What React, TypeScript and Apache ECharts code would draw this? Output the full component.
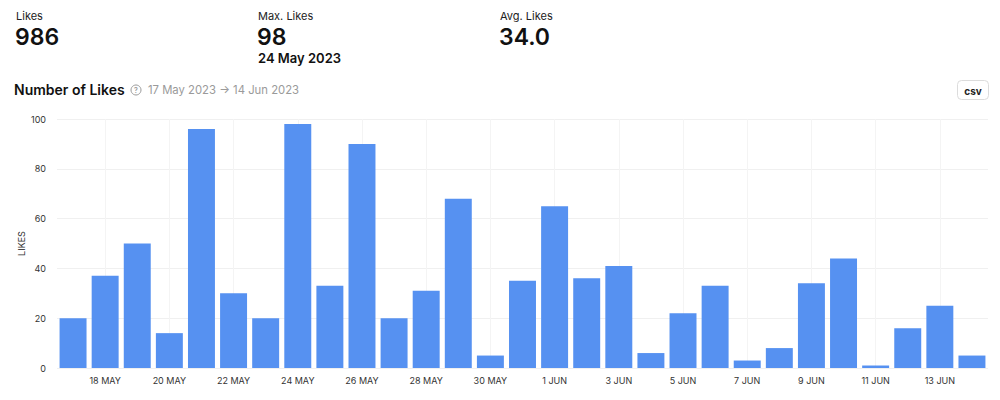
import React, { useEffect, useRef } from "react";
import * as echarts from "echarts";

const categories = [
  "17 MAY", "18 MAY", "19 MAY", "20 MAY", "21 MAY", "22 MAY", "23 MAY", "24 MAY",
  "25 MAY", "26 MAY", "27 MAY", "28 MAY", "29 MAY", "30 MAY", "31 MAY",
  "1 JUN", "2 JUN", "3 JUN", "4 JUN", "5 JUN", "6 JUN", "7 JUN", "8 JUN",
  "9 JUN", "10 JUN", "11 JUN", "12 JUN", "13 JUN", "14 JUN",
];
const likes = [
  20, 37, 50, 14, 96, 30, 20, 98, 33, 90, 20, 31, 68, 5, 35,
  65, 36, 41, 6, 22, 33, 3, 8, 34, 44, 1, 16, 25, 5,
];
const yTicks = [0, 20, 40, 60, 80, 100];

const totalLabel = "986";
const maxLabel = "98";
const maxDateLabel = "24 May 2023";
const avgLabel = "34.0";
const rangeLabel = "17 May 2023 → 14 Jun 2023";

const FONT = "Inter, 'Noto Sans', sans-serif";

export default function App() {
  const ref = useRef<HTMLDivElement>(null);
  useEffect(() => {
    if (!ref.current) return;
    const chart = echarts.init(ref.current, null, { renderer: "svg" });
    const every2 = (i: number) => i % 2 === 1;
    chart.setOption({
      animation: false,
      textStyle: { fontFamily: FONT },
      grid: { left: 57, right: 12, top: 119, bottom: 32, containLabel: false },
      xAxis: {
        type: "category",
        data: categories,
        boundaryGap: true,
        axisLine: { show: false },
        axisTick: { show: false },
        axisLabel: {
          interval: every2,
          color: "#333",
          fontSize: 9,
          margin: 8,
          fontFamily: FONT,
        },
        splitLine: {
          show: true,
          interval: every2,
          alignWithLabel: true,
          lineStyle: { color: "#f4f4f4", width: 1 },
        },
      },
      yAxis: {
        type: "value",
        min: yTicks[0],
        max: yTicks[yTicks.length - 1],
        interval: 20,
        name: "LIKES",
        nameLocation: "middle",
        nameGap: 31,
        nameMoveOverlap: false,
        nameTextStyle: { color: "#333", fontSize: 9, fontFamily: FONT },
        axisLine: { show: false },
        axisTick: { show: false },
        axisLabel: { color: "#333", fontSize: 9, margin: 11, fontFamily: FONT },
        splitLine: { lineStyle: { color: "#f0f0f0", width: 1 } },
      },
      series: [
        {
          type: "bar",
          data: likes,
          barCategoryGap: "16%",
          itemStyle: { color: "#5691f1" },
        },
      ],
      graphic: [
        { type: "text", left: 16, top: 10, style: { text: "Likes", font: `400 11px ${FONT}`, fill: "#222" } },
        { type: "text", left: 15, top: 25, style: { text: totalLabel, font: `600 23px ${FONT}`, fill: "#111" } },
        { type: "text", left: 258, top: 10, style: { text: "Max. Likes", font: `400 11px ${FONT}`, fill: "#222" } },
        { type: "text", left: 257, top: 25, style: { text: maxLabel, font: `600 23px ${FONT}`, fill: "#111" } },
        { type: "text", left: 258, top: 51, style: { text: maxDateLabel, font: `600 13px ${FONT}`, fill: "#111" } },
        { type: "text", left: 500, top: 10, style: { text: "Avg. Likes", font: `400 11px ${FONT}`, fill: "#222" } },
        { type: "text", left: 499, top: 25, style: { text: avgLabel, font: `600 23px ${FONT}`, fill: "#111" } },
        { type: "text", left: 14, top: 82, style: { text: "Number of Likes", font: `600 14px ${FONT}`, fill: "#111" } },
        { type: "circle", shape: { cx: 136, cy: 90, r: 5 }, style: { fill: "none", stroke: "#999", lineWidth: 1 } },
        { type: "text", x: 136, y: 90.5, style: { text: "?", font: `600 7px ${FONT}`, fill: "#999", textAlign: "center", textVerticalAlign: "middle" } },
        { type: "text", left: 148, top: 84, style: { text: rangeLabel, font: `400 11.3px ${FONT}`, fill: "#9a9a9a" } },
        { type: "rect", shape: { x: 957.5, y: 80.5, width: 31, height: 19, r: 4 }, style: { fill: "#fff", stroke: "#dcdcdc", lineWidth: 1 } },
        { type: "text", x: 973, y: 90.5, style: { text: "csv", font: `700 10px ${FONT}`, fill: "#222", textAlign: "center", textVerticalAlign: "middle" } },
      ],
    });
    return () => chart.dispose();
  }, []);
  return (
    <div
      ref={ref}
      style={{ position: "absolute", left: 0, top: 0, width: 1000, height: 400, background: "#fff" }}
    />
  );
}
